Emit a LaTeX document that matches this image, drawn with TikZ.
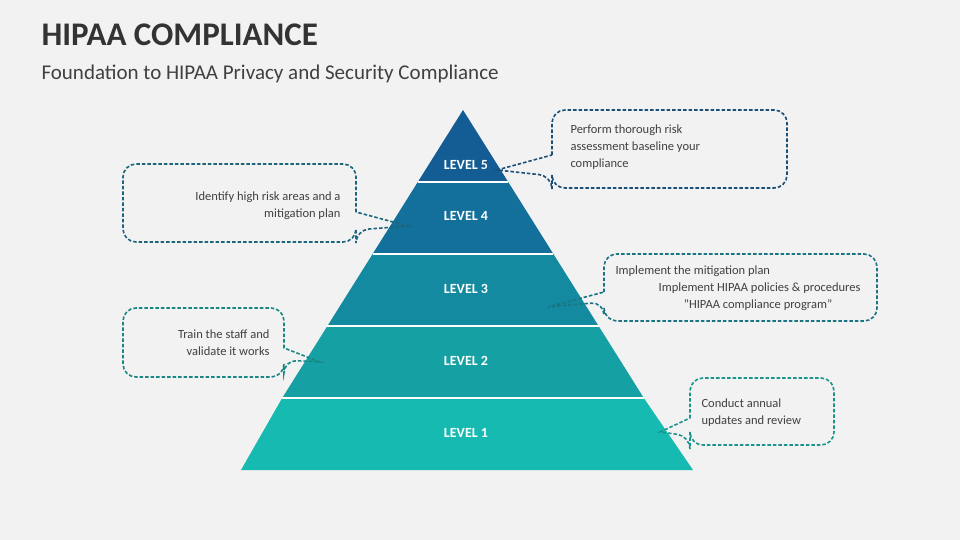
\documentclass[tikz,border=0pt]{standalone}
\usepackage{fontspec}
\setmainfont{Carlito}
\begin{document}
\begin{tikzpicture}[x=1pt,y=-1pt,
  lvl/.style={font=\fontsize{14}{16}\selectfont\bfseries,text=white},
  call/.style={line width=1.6pt,dash pattern=on 3.5pt off 2pt},
  ctext/.style={font=\fontsize{12.5}{17}\selectfont,text=black!75}]
\definecolor{bg}{HTML}{F2F2F2}
\definecolor{cA}{HTML}{135C94}
\definecolor{cB}{HTML}{13709A}
\definecolor{cC}{HTML}{138A9F}
\definecolor{cD}{HTML}{15A0A3}
\definecolor{cE}{HTML}{17BAB0}
\definecolor{kA}{HTML}{1C4F76}
\definecolor{kB}{HTML}{1D647C}
\definecolor{kC}{HTML}{1A7483}
\definecolor{kD}{HTML}{1A8684}
\definecolor{kE}{HTML}{1A948C}
\fill[bg] (0,0) rectangle (960,540);
\useasboundingbox (0,0) rectangle (960,540);
\node[anchor=base west,font=\fontsize{33}{36}\selectfont\bfseries,text=black!80] (t) at (38,46) {HIPAA COMPLIANCE};
\node[anchor=base west,font=\fontsize{21}{24}\selectfont,text=black!75] (s) at (38,80) {Foundation to HIPAA Privacy and Security Compliance};
% pyramid
\fill[cA] (463,110) -- (508.2,182) -- (417.8,182) -- cycle;
\fill[cB] (417.8,182) -- (508.2,182) -- (553.4,254) -- (372.6,254) -- cycle;
\fill[cC] (372.6,254) -- (553.4,254) -- (598.6,326) -- (327.4,326) -- cycle;
\fill[cD] (327.4,326) -- (598.6,326) -- (643.8,398) -- (282.2,398) -- cycle;
\fill[cE] (282.2,398) -- (643.8,398) -- (693,470) -- (241,470) -- cycle;
\foreach \y/\h in {182/45.2,254/90.4,326/135.6,398/180.8}
  \draw[white,line width=1.5pt] (463-\h,\y) -- (463+\h,\y);
\node[lvl] (l5) at (466,165) {LEVEL 5};
\node[lvl] (l4) at (466,216) {LEVEL 4};
\node[lvl] (l3) at (466,289) {LEVEL 3};
\node[lvl] (l2) at (466,361) {LEVEL 2};
\node[lvl] (l1) at (466,433) {LEVEL 1};
% callouts
\coordinate (p5) at (497,170);
\coordinate (p4) at (408,226);
\coordinate (p3) at (548,307);
\coordinate (p2) at (320,362);
\coordinate (p1) at (660,432);
\draw[call,kA] (552,155) [rounded corners=13] -- (552,110) -- (787,110) -- (787,188) -- (552,188) -- (552,176) [sharp corners] -- (p5) -- cycle;
\draw[call,kB] (356,212) [rounded corners=13] -- (356,164) -- (123,164) -- (123,242) -- (356,242) -- (356,230) [sharp corners] -- (p4) -- cycle;
\draw[call,kC] (604,292) [rounded corners=13] -- (604,254) -- (877,254) -- (877,321) -- (604,321) -- (604,302) [sharp corners] -- (p3) -- cycle;
\draw[call,kD] (284,348) [rounded corners=13] -- (284,308) -- (123,308) -- (123,377) -- (284,377) -- (284,360) [sharp corners] -- (p2) -- cycle;
\draw[call,kE] (690,418) [rounded corners=13] -- (690,378) -- (834,378) -- (834,445) -- (690,445) -- (690,436) [sharp corners] -- (p1) -- cycle;
\node[ctext,anchor=west,align=left] (c5) at (567,147) {Perform thorough risk\\assessment baseline your\\compliance};
\node[ctext,anchor=east,align=right] (c4) at (344,206) {Identify high risk areas and a\\mitigation plan};
\node[ctext,anchor=west,align=center] (c3) at (612,288) {\makebox[245pt][l]{Implement the mitigation plan}\\\makebox[245pt][r]{Implement HIPAA policies \& procedures}\\\makebox[245pt][c]{\hspace{40pt}"HIPAA compliance program"}};
\node[ctext,anchor=east,align=right] (c2) at (273,343) {Train the staff and\\validate it works};
\node[ctext,anchor=west,align=left] (c1) at (698,413) {Conduct annual\\updates and review};
\end{tikzpicture}
\end{document}
